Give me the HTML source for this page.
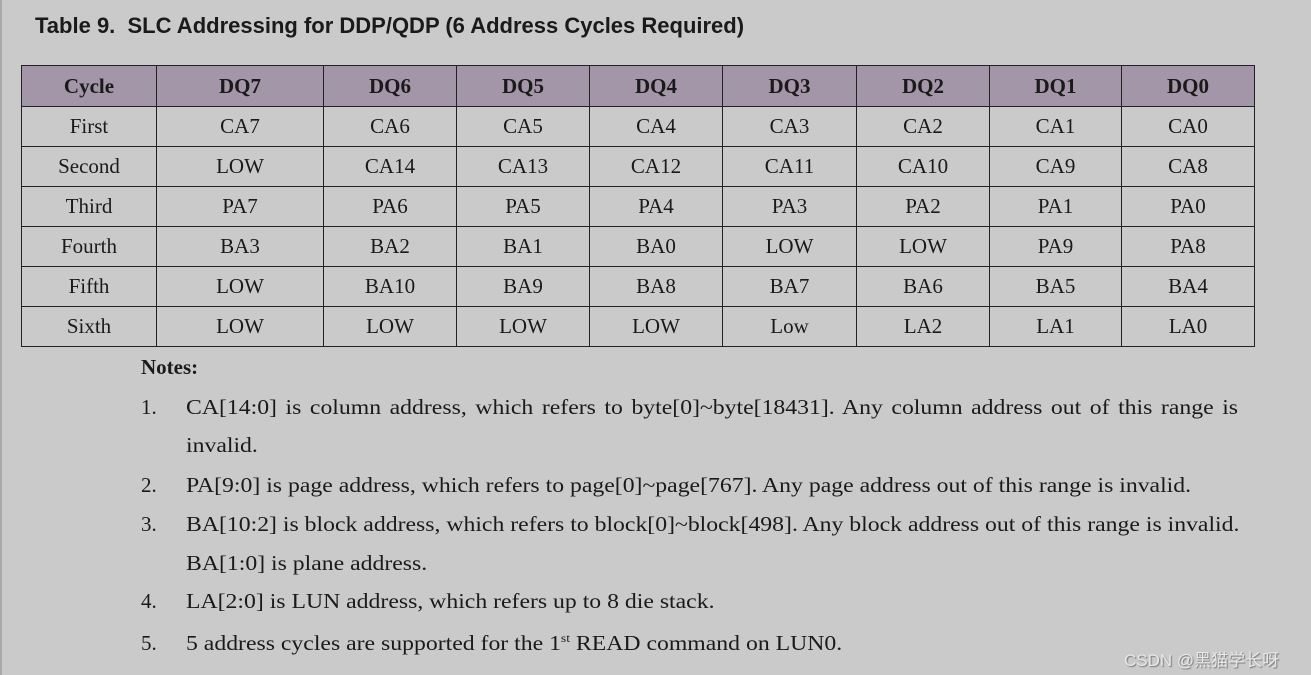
<!DOCTYPE html>
<html><head><style>
body{margin:0;width:1311px;height:675px;background:#cacaca;position:relative;overflow:hidden;font-family:"Liberation Serif",serif;color:#1a1a1a}
.edge{position:absolute;left:0;top:0;width:2px;height:675px;background:#a8a8a8}
.title{position:absolute;left:35px;top:13px;font-family:"Liberation Sans",sans-serif;font-weight:bold;font-size:22px;letter-spacing:0px}
table{position:absolute;left:21px;top:65px;border-collapse:collapse;font-size:21px}
td{border:1.5px solid #222;text-align:center;height:39px;padding:0}
tr.h td{background:#a396a8;font-weight:bold;height:40px}
.n{position:absolute;font-size:21px;white-space:nowrap;transform:scaleX(1.13);transform-origin:0 0}
.wm{position:absolute;left:1124px;top:646px;font-family:"Liberation Sans","Noto Sans CJK SC",sans-serif;font-size:17px;color:#e8e8e8;text-shadow:1px 1px 1px #777}
</style></head><body>
<div class="edge"></div>
<div class="title">Table 9.&nbsp; SLC Addressing for DDP/QDP (6 Address Cycles Required)</div>
<table>
<colgroup><col style="width:135px"><col style="width:167px"><col style="width:133px"><col style="width:133px"><col style="width:133px"><col style="width:134px"><col style="width:133px"><col style="width:132px"><col style="width:133px"></colgroup>
<tr class="h"><td>Cycle</td><td>DQ7</td><td>DQ6</td><td>DQ5</td><td>DQ4</td><td>DQ3</td><td>DQ2</td><td>DQ1</td><td>DQ0</td></tr>
<tr><td>First</td><td>CA7</td><td>CA6</td><td>CA5</td><td>CA4</td><td>CA3</td><td>CA2</td><td>CA1</td><td>CA0</td></tr>
<tr><td>Second</td><td>LOW</td><td>CA14</td><td>CA13</td><td>CA12</td><td>CA11</td><td>CA10</td><td>CA9</td><td>CA8</td></tr>
<tr><td>Third</td><td>PA7</td><td>PA6</td><td>PA5</td><td>PA4</td><td>PA3</td><td>PA2</td><td>PA1</td><td>PA0</td></tr>
<tr><td>Fourth</td><td>BA3</td><td>BA2</td><td>BA1</td><td>BA0</td><td>LOW</td><td>LOW</td><td>PA9</td><td>PA8</td></tr>
<tr><td>Fifth</td><td>LOW</td><td>BA10</td><td>BA9</td><td>BA8</td><td>BA7</td><td>BA6</td><td>BA5</td><td>BA4</td></tr>
<tr><td>Sixth</td><td>LOW</td><td>LOW</td><td>LOW</td><td>LOW</td><td>Low</td><td>LA2</td><td>LA1</td><td>LA0</td></tr>
</table>
<div class="n" style="left:141px;top:355px;font-weight:bold;transform:none">Notes:</div>
<div class="n" style="left:141px;top:395px;transform:none">1.</div>
<div class="n" style="left:186px;top:395px;width:931px;white-space:normal;text-align:justify;text-align-last:justify">CA[14:0] is column address, which refers to byte[0]~byte[18431]. Any column address out of this range is</div>
<div class="n" style="left:186px;top:433px">invalid.</div>
<div class="n" style="left:141px;top:473px;transform:none">2.</div>
<div class="n" style="left:186px;top:473px">PA[9:0] is page address, which refers to page[0]~page[767]. Any page address out of this range is invalid.</div>
<div class="n" style="left:141px;top:512px;transform:none">3.</div>
<div class="n" style="left:186px;top:512px">BA[10:2] is block address, which refers to block[0]~block[498]. Any block address out of this range is invalid.</div>
<div class="n" style="left:186px;top:551px">BA[1:0] is plane address.</div>
<div class="n" style="left:141px;top:589px;transform:none">4.</div>
<div class="n" style="left:186px;top:589px">LA[2:0] is LUN address, which refers up to 8 die stack.</div>
<div class="n" style="left:141px;top:631px;transform:none">5.</div>
<div class="n" style="left:186px;top:631px">5 address cycles are supported for the 1<sup style="font-size:12px">st</sup> READ command on LUN0.</div>
<div class="wm">CSDN @黑猫学长呀</div>
</body></html>
